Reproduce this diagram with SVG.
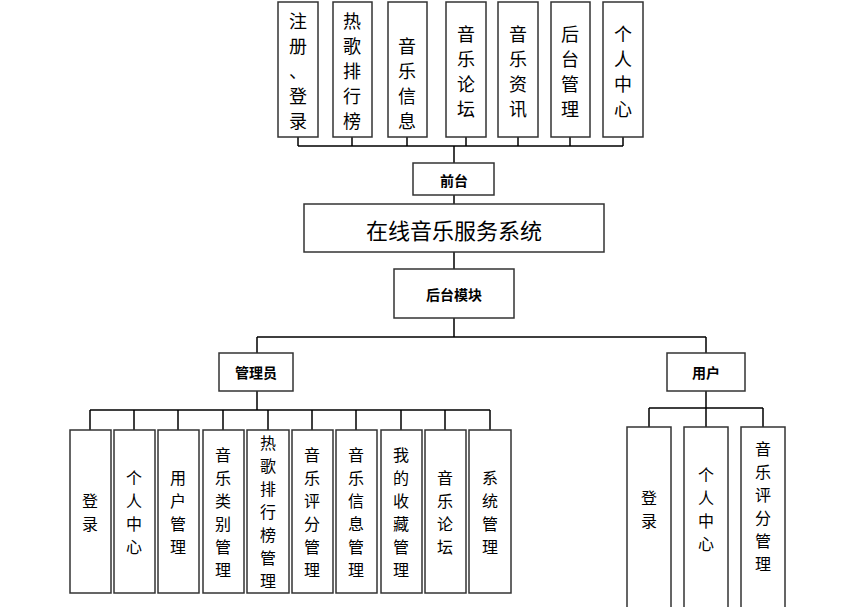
<svg xmlns="http://www.w3.org/2000/svg" width="866" height="607" viewBox="0 0 866 607">
<style>
rect{fill:#fff;stroke:#333;stroke-width:1.5}
text{font-family:"Noto Sans CJK SC",sans-serif;text-anchor:middle;dominant-baseline:central;fill:#000}
.v{font-size:18px}
.c{font-size:16px}
.b{font-size:14px;font-weight:bold}
#conn path{fill:none;stroke:#000;stroke-width:1.5}
</style>
<rect x="0" y="0" width="866" height="607" style="fill:#fff;stroke:none"/>
<g id="conn">
<path d="M298 137V146M352 137V146M407 137V146M466 137V146M518 137V146M570 137V146M623 137V146M298 146H623M454 146V163"/>
<path d="M454 195V204M454 252V269M454 318V337M257 337H706M257 337V353M706 337V353"/>
<path d="M257 391V410M90 410H490M90 410V430M134 410V430M178 410V430M223 410V430M268 410V430M312 410V430M356 410V430M401 410V430M445 410V430M490 410V430"/>
<path d="M706 391V408M649 408H763M649 408V427M706 408V427M763 408V427"/>
</g>
<g id="top1"><rect x="278" y="2" width="40" height="135"/><text class="v" x="298"><tspan x="298" y="20">注</tspan><tspan x="298" y="45">册</tspan><tspan x="298" y="70">、</tspan><tspan x="298" y="95">登</tspan><tspan x="298" y="120">录</tspan></text></g>
<g id="top2"><rect x="333" y="2" width="39" height="135"/><text class="v"><tspan x="352" y="20">热</tspan><tspan x="352" y="45">歌</tspan><tspan x="352" y="70">排</tspan><tspan x="352" y="95">行</tspan><tspan x="352" y="120">榜</tspan></text></g>
<g id="top3"><rect x="388" y="2" width="39" height="135"/><text class="v"><tspan x="407" y="45">音</tspan><tspan x="407" y="70">乐</tspan><tspan x="407" y="95">信</tspan><tspan x="407" y="120">息</tspan></text></g>
<g id="top4"><rect x="446" y="2" width="40" height="135"/><text class="v"><tspan x="466" y="33">音</tspan><tspan x="466" y="58">乐</tspan><tspan x="466" y="83">论</tspan><tspan x="466" y="108">坛</tspan></text></g>
<g id="top5"><rect x="498" y="2" width="40" height="135"/><text class="v"><tspan x="518" y="33">音</tspan><tspan x="518" y="58">乐</tspan><tspan x="518" y="83">资</tspan><tspan x="518" y="108">讯</tspan></text></g>
<g id="top6"><rect x="551" y="2" width="39" height="135"/><text class="v"><tspan x="570" y="33">后</tspan><tspan x="570" y="58">台</tspan><tspan x="570" y="83">管</tspan><tspan x="570" y="108">理</tspan></text></g>
<g id="top7"><rect x="603" y="2" width="40" height="135"/><text class="v"><tspan x="623" y="33">个</tspan><tspan x="623" y="58">人</tspan><tspan x="623" y="83">中</tspan><tspan x="623" y="108">心</tspan></text></g>
<g id="qiantai"><rect x="413" y="163" width="81" height="32"/><text class="b" x="454" y="180">前台</text></g>
<g id="main"><rect x="304" y="204" width="300" height="48"/><text x="454" y="229" style="font-size:22px">在线音乐服务系统</text></g>
<g id="houtai"><rect x="394" y="269" width="120" height="49"/><text class="b" x="454" y="294">后台模块</text></g>
<g id="admin"><rect x="219" y="353" width="74" height="38"/><text class="b" x="256" y="372">管理员</text></g>
<g id="user"><rect x="667" y="353" width="78" height="38"/><text class="b" x="706" y="372">用户</text></g>
<g id="a1"><rect x="70" y="430" width="41" height="163"/><text class="c"><tspan x="90" y="500">登</tspan><tspan x="90" y="523">录</tspan></text></g>
<g id="a2"><rect x="114" y="430" width="41" height="163"/><text class="c"><tspan x="134" y="477">个</tspan><tspan x="134" y="500">人</tspan><tspan x="134" y="523">中</tspan><tspan x="134" y="546">心</tspan></text></g>
<g id="a3"><rect x="158" y="430" width="41" height="163"/><text class="c"><tspan x="178" y="477">用</tspan><tspan x="178" y="500">户</tspan><tspan x="178" y="523">管</tspan><tspan x="178" y="546">理</tspan></text></g>
<g id="a4"><rect x="203" y="430" width="41" height="163"/><text class="c"><tspan x="223" y="454">音</tspan><tspan x="223" y="477">乐</tspan><tspan x="223" y="500">类</tspan><tspan x="223" y="523">别</tspan><tspan x="223" y="546">管</tspan><tspan x="223" y="569">理</tspan></text></g>
<g id="a5"><rect x="247" y="430" width="42" height="163"/><text class="c"><tspan x="268" y="442">热</tspan><tspan x="268" y="465">歌</tspan><tspan x="268" y="488">排</tspan><tspan x="268" y="511">行</tspan><tspan x="268" y="534">榜</tspan><tspan x="268" y="557">管</tspan><tspan x="268" y="580">理</tspan></text></g>
<g id="a6"><rect x="292" y="430" width="41" height="163"/><text class="c"><tspan x="312" y="454">音</tspan><tspan x="312" y="477">乐</tspan><tspan x="312" y="500">评</tspan><tspan x="312" y="523">分</tspan><tspan x="312" y="546">管</tspan><tspan x="312" y="569">理</tspan></text></g>
<g id="a7"><rect x="336" y="430" width="41" height="163"/><text class="c"><tspan x="356" y="454">音</tspan><tspan x="356" y="477">乐</tspan><tspan x="356" y="500">信</tspan><tspan x="356" y="523">息</tspan><tspan x="356" y="546">管</tspan><tspan x="356" y="569">理</tspan></text></g>
<g id="a8"><rect x="381" y="430" width="41" height="163"/><text class="c"><tspan x="401" y="454">我</tspan><tspan x="401" y="477">的</tspan><tspan x="401" y="500">收</tspan><tspan x="401" y="523">藏</tspan><tspan x="401" y="546">管</tspan><tspan x="401" y="569">理</tspan></text></g>
<g id="a9"><rect x="425" y="430" width="41" height="163"/><text class="c"><tspan x="445" y="477">音</tspan><tspan x="445" y="500">乐</tspan><tspan x="445" y="523">论</tspan><tspan x="445" y="546">坛</tspan></text></g>
<g id="a10"><rect x="469" y="430" width="42" height="163"/><text class="c"><tspan x="490" y="477">系</tspan><tspan x="490" y="500">统</tspan><tspan x="490" y="523">管</tspan><tspan x="490" y="546">理</tspan></text></g>
<g id="u1"><rect x="627" y="427" width="44" height="185"/><text class="c"><tspan x="649" y="497">登</tspan><tspan x="649" y="520">录</tspan></text></g>
<g id="u2"><rect x="684" y="427" width="44" height="185"/><text class="c"><tspan x="706" y="474">个</tspan><tspan x="706" y="497">人</tspan><tspan x="706" y="520">中</tspan><tspan x="706" y="543">心</tspan></text></g>
<g id="u3"><rect x="741" y="427" width="44" height="185"/><text class="c"><tspan x="763" y="448">音</tspan><tspan x="763" y="471">乐</tspan><tspan x="763" y="494">评</tspan><tspan x="763" y="517">分</tspan><tspan x="763" y="540">管</tspan><tspan x="763" y="563">理</tspan></text></g>
</svg>
